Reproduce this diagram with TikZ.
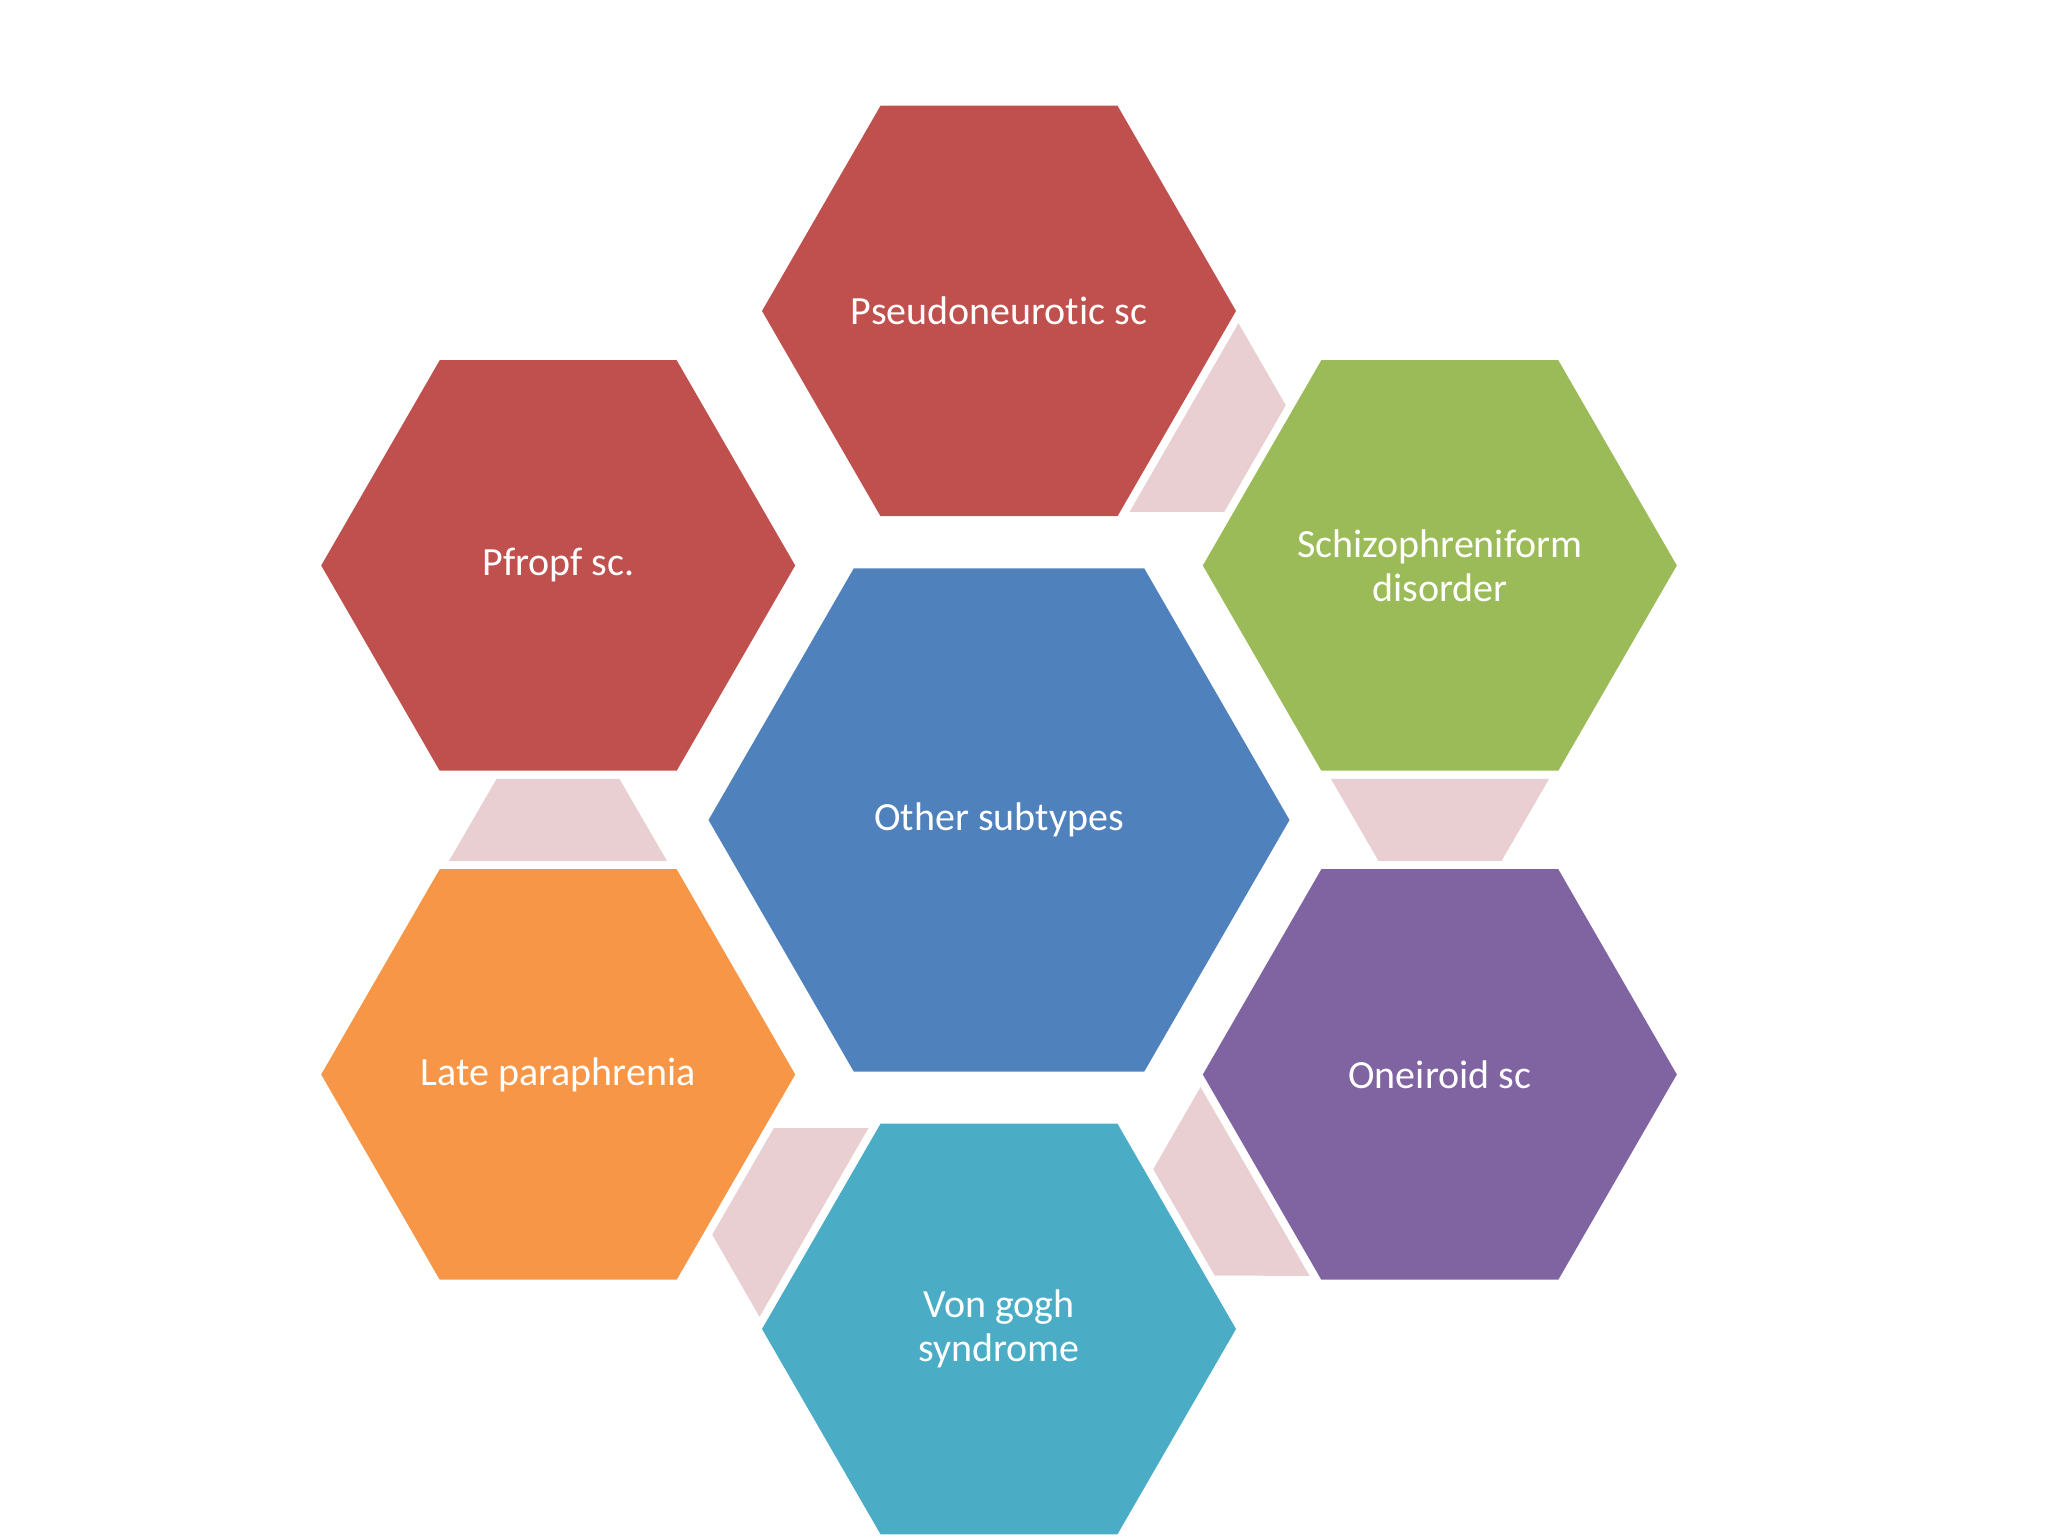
\documentclass[tikz,border=0pt]{standalone}
\usepackage{fontspec}
\setmainfont{Carlito}[Ligatures=NoCommon]
\usetikzlibrary{shapes.geometric,calc}
\definecolor{hred}{HTML}{C0504D}
\definecolor{hgreen}{HTML}{9BBB59}
\definecolor{hblue}{HTML}{4F81BD}
\definecolor{hpurple}{HTML}{8064A2}
\definecolor{horange}{HTML}{F79646}
\definecolor{haqua}{HTML}{4BACC6}
\definecolor{hpink}{HTML}{E9CFD2}
\begin{document}
\begin{tikzpicture}[x=0.5pt,y=0.5pt,
  hexbig/.style={regular polygon, regular polygon sides=6, minimum size=290.5pt,
    inner sep=0pt, outer sep=0pt, fill=hblue},
  hexsmall/.style={hexbig, minimum size=237pt},
  hextext/.style={inner sep=0pt, text=white, font=\fontsize{20}{22.2}\selectfont, align=center},
  linkshape/.style={fill=hpink}]
\useasboundingbox (0,0) rectangle (2048,1536);
\coordinate (c) at (999,716);
\foreach \a in {0,60,180,240,300}{
  \fill[linkshape, shift={(c)}, rotate=\a] (332,41) -- (550,41) -- (502.5,-41) -- (379.5,-41) -- cycle;
}
\node[hexbig] (center) at (c) {};
\node[hexsmall, fill=hred] (pseudo) at ($(c)+(90:509)$) {};
\node[hexsmall, fill=hgreen] (schizo) at ($(c)+(30:509)$) {};
\node[hexsmall, fill=hpurple] (oneiroid) at ($(c)+(-30:509)$) {};
\node[hexsmall, fill=haqua] (vongogh) at ($(c)+(-90:509)$) {};
\node[hexsmall, fill=horange] (late) at ($(c)+(210:509)$) {};
\node[hexsmall, fill=hred] (pfropf) at ($(c)+(150:509)$) {};
\node[hextext] (centert) at (center) {Other subtypes};
\node[hextext] (pseudot) at (pseudo) {Pseudoneurotic sc};
\node[hextext] (schizot) at (schizo) {Schizophreniform\\disorder};
\node[hextext] (oneiroidt) at (oneiroid) {Oneiroid sc};
\node[hextext] (vongoght) at (vongogh) {Von gogh\\syndrome};
\node[hextext] (latet) at (late) {Late paraphrenia};
\node[hextext] (pfropft) at (pfropf) {Pfropf sc.};
\end{tikzpicture}
\end{document}
